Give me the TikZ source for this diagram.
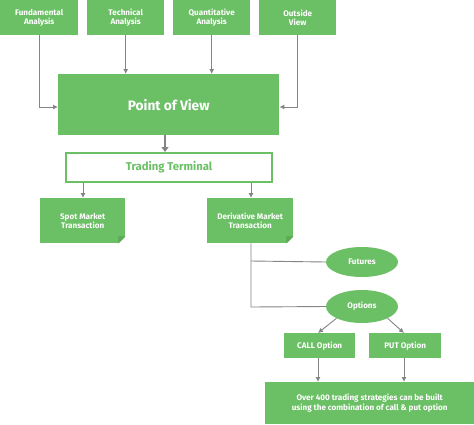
\documentclass[tikz,border=0pt]{standalone}
\usepackage{fontspec}
\setmainfont{Fira Sans}
\usetikzlibrary{shapes.geometric,arrows.meta}
\definecolor{gr}{HTML}{6BBF65}
\definecolor{grd}{HTML}{4E9A48}
\definecolor{ar}{HTML}{858585}
\tikzset{
  box/.style={fill=gr,text=white,font=\bfseries\fontsize{8.1}{9.3}\selectfont,align=center,inner sep=0pt,anchor=north west},
  oval/.style={ellipse,fill=gr,text=white,font=\bfseries\fontsize{8.1}{9.3}\selectfont,inner sep=0pt},
  conn/.style={draw=ar,line width=0.9pt,-{Latex[length=5pt,width=5pt]}},
  plain/.style={draw=ar,line width=0.9pt}
}
\begin{document}
\begin{tikzpicture}[x=1pt,y=-1pt]
\useasboundingbox (0,0) rectangle (474,424);
\fill[white] (0,0) rectangle (474,424);
% top boxes
\node[box,minimum width=78,minimum height=35] (fa) at (0,0) {Fundamental\\Analysis};
\node[box,minimum width=77,minimum height=35] (ta) at (87,0) {Technical\\Analysis};
\node[box,minimum width=77,minimum height=35] (qa) at (173,0) {Quantitative\\Analysis};
\node[box,minimum width=77,minimum height=35] (ov) at (259,0) {Outside\\View};
\node[box,minimum width=221,minimum height=61,font=\bfseries\fontsize{13.7}{15}\selectfont] (pov) at (58,74) {Point of View};
\node[draw=gr,line width=2pt,fill=white,text=gr,font=\bfseries\fontsize{11.3}{13}\selectfont,minimum width=206,minimum height=29,inner sep=0pt] (tt) at (169,167.5) {Trading Terminal};
\node[box,minimum width=85,minimum height=45] (sm) at (40,198) {Spot Market\\Transaction};
\node[box,minimum width=86,minimum height=45] (dm) at (207,198) {Derivative Market\\Transaction};
\foreach \n in {sm,dm}{
  \fill[white] ([xshift=-7pt]\n.south east) -- (\n.south east) -- ([yshift=7pt]\n.south east) -- cycle;
  \fill[grd!60!gr] ([xshift=-7pt]\n.south east) -- ([xshift=-7pt,yshift=7pt]\n.south east) -- ([yshift=7pt]\n.south east) -- cycle;
}
\node[oval,minimum width=72,minimum height=30] (fu) at (362,262) {Futures};
\node[oval,minimum width=72,minimum height=33] (op) at (362,306.5) {Options};
\node[box,minimum width=71,minimum height=25] (call) at (284,333) {CALL Option};
\node[box,minimum width=72,minimum height=25] (put) at (369,333) {PUT Option};
\node[box,minimum width=209,minimum height=42] (ov4) at (265,382) {Over 400 trading strategies can be built\\using the combination of call \& put option};
% connectors
\draw[conn] (fa.south) |- (pov.west |- 0,107);
\draw[conn] (ta.south) -- (ta.south |- pov.north);
\draw[conn] (qa.south) -- (qa.south |- pov.north);
\draw[conn] (ov.south) |- (pov.east |- 0,107);
\draw[draw=ar,line width=2.5pt,-{Triangle[length=5pt,width=7pt]}] (pov.south -| 165,0) -- (tt.north -| 165,0);
\draw[conn] (tt.south -| 83,0) -- (sm.north -| 83,0);
\draw[conn] (tt.south -| 251,0) -- (dm.north -| 251,0);
\coordinate (br) at (251,307);
\draw[plain] (dm.south -| 251,0) -- (br) -- (op.west);
\draw[plain] (251,261) -- (fu.west);
\draw[conn] (op.south west) -- (call.north -| 318,0);
\draw[conn] (op.south east) -- (put.north -| 404,0);
\draw[conn] (call.south -| 318,0) -- (ov4.north -| 318,0);
\draw[conn] (put.south -| 404,0) -- (ov4.north -| 404,0);
\end{tikzpicture}
\end{document}
